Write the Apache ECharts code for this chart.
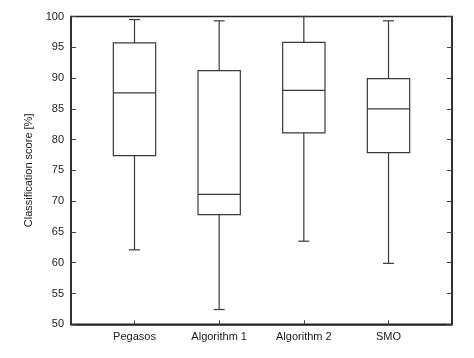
<!DOCTYPE html>
<html>
<head>
<meta charset="utf-8">
<script src="https://cdn.jsdelivr.net/npm/echarts@6/dist/echarts.min.js"></script>
<style>
  html, body { margin: 0; padding: 0; background: #fff; }
  #chart { width: 474px; height: 358px; }
</style>
</head>
<body>
<div id="chart"></div>
<script>
const categories = ['Pegasos', 'Algorithm 1', 'Algorithm 2', 'SMO'];
const positions = [1, 2, 3, 4];
// [min, Q1, median, Q3, max]
const whiskerLow = [62.1, 52.4, 63.5, 59.9];
const q1 = [77.4, 67.8, 81.1, 77.9];
const median = [87.6, 71.1, 88.0, 85.0];
const q3 = [95.7, 91.2, 95.8, 89.9];
const whiskerHigh = [99.5, 99.3, 100, 99.3];
const yTicks = [50, 55, 60, 65, 70, 75, 80, 85, 90, 95, 100];

const boxData = positions.map((p, i) => [p, whiskerLow[i], q1[i], median[i], q3[i], whiskerHigh[i]]);

const chart = echarts.init(document.getElementById('chart'));
const lineColor = '#3a3a3a';
const font = 'Liberation Sans, Arial, sans-serif';

function renderBox(params, api) {
  const x = api.value(0);
  const halfBox = 0.25;
  const capHalf = 5.5;
  const pLow = api.coord([x, api.value(1)]);
  const pQ1 = api.coord([x, api.value(2)]);
  const pMed = api.coord([x, api.value(3)]);
  const pQ3 = api.coord([x, api.value(4)]);
  const pHigh = api.coord([x, api.value(5)]);
  const left = api.coord([x - halfBox, api.value(2)])[0];
  const right = api.coord([x + halfBox, api.value(2)])[0];
  const style = { stroke: lineColor, lineWidth: 1.2, fill: null };
  return {
    type: 'group',
    children: [
      { type: 'rect', shape: { x: left, y: pQ3[1], width: right - left, height: pQ1[1] - pQ3[1] }, style: style },
      { type: 'line', shape: { x1: left, y1: pMed[1], x2: right, y2: pMed[1] }, style: style },
      { type: 'line', shape: { x1: pQ3[0], y1: pQ3[1], x2: pHigh[0], y2: pHigh[1] }, style: style },
      { type: 'line', shape: { x1: pQ1[0], y1: pQ1[1], x2: pLow[0], y2: pLow[1] }, style: style },
      { type: 'line', shape: { x1: pHigh[0] - capHalf, y1: pHigh[1], x2: pHigh[0] + capHalf, y2: pHigh[1] }, style: style },
      { type: 'line', shape: { x1: pLow[0] - capHalf, y1: pLow[1], x2: pLow[0] + capHalf, y2: pLow[1] }, style: style }
    ]
  };
}

const yAxisCommon = {
  type: 'value',
  min: 50,
  max: 100,
  interval: 5,
  splitLine: { show: false },
  axisLine: { show: true, lineStyle: { color: '#222', width: 1.5 } },
  axisTick: { show: true, inside: true, length: 5, lineStyle: { color: '#444' } }
};

chart.setOption({
  animation: false,
  backgroundColor: '#fff',
  grid: {
    left: 71, right: 22, top: 16.5, bottom: 33.7,
    show: true, borderColor: '#222', borderWidth: 1.5, backgroundColor: 'transparent'
  },
  xAxis: {
    type: 'value',
    min: 0.25,
    max: 4.75,
    splitLine: { show: false },
    axisLine: { show: true, lineStyle: { color: '#222', width: 1.5 } },
    axisTick: { show: true, inside: true, length: 4, customValues: positions, lineStyle: { color: '#444' } },
    axisLabel: {
      customValues: positions,
      formatter: v => categories[positions.indexOf(v)] || '',
      color: '#1a1a1a', fontFamily: font, fontSize: 11, margin: 7
    }
  },
  yAxis: [
    Object.assign({}, yAxisCommon, {
      position: 'left',
      name: 'Classification score [%]',
      nameLocation: 'middle',
      nameGap: 33,
      nameTextStyle: { color: '#1a1a1a', fontFamily: font, fontSize: 11 },
      axisLabel: { color: '#1a1a1a', fontFamily: font, fontSize: 11, margin: 7,
        customValues: yTicks }
    }),
    Object.assign({}, yAxisCommon, {
      position: 'right',
      axisLabel: { show: false }
    })
  ],
  series: [{
    type: 'custom',
    renderItem: renderBox,
    encode: { x: 0, y: [1, 2, 3, 4, 5] },
    data: boxData,
    clip: false
  }]
});
</script>
</body>
</html>
